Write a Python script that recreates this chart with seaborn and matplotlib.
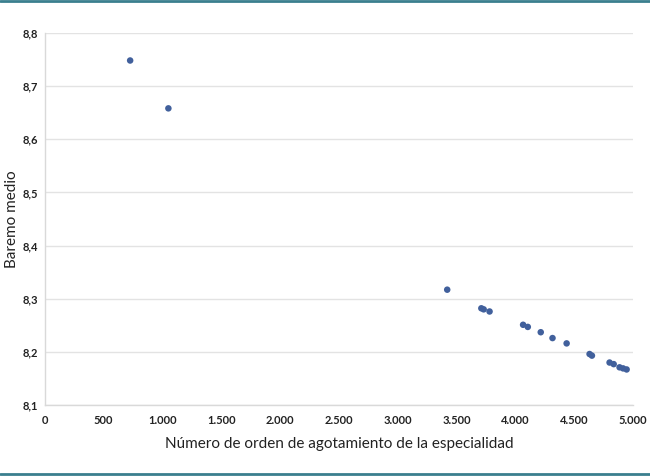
import numpy as np
import pandas as pd
import matplotlib
matplotlib.use("Agg")
import matplotlib.pyplot as plt
from matplotlib.ticker import FuncFormatter, MultipleLocator
from matplotlib.lines import Line2D
import seaborn as sns

# numero de orden de agotamiento vs baremo medio
orden = [725, 1050, 3420, 3710, 3730, 3780, 4065, 4105, 4215, 4315,
         4435, 4630, 4650, 4800, 4835, 4885, 4915, 4945]
baremo = [8.748, 8.658, 8.317, 8.282, 8.280, 8.276, 8.251, 8.247, 8.237, 8.226,
          8.216, 8.196, 8.193, 8.180, 8.177, 8.171, 8.169, 8.167]

df = pd.DataFrame({"orden": orden, "baremo": baremo})

sns.set_style("white")
plt.rcParams['font.family'] = ['Lato', 'DejaVu Sans']

fig = plt.figure(figsize=(6.5, 4.76), dpi=100)
ax = fig.add_axes([0.069, 0.149, 0.905, 0.782])

sns.scatterplot(data=df, x="orden", y="baremo", ax=ax, color="#41609c",
                s=22, edgecolor="none", zorder=3)

ax.set_xlim(0, 5000)
ax.set_ylim(8.1, 8.8)
ax.xaxis.set_major_locator(MultipleLocator(500))
ax.yaxis.set_major_locator(MultipleLocator(0.1))

def fmt_x(v, pos):
    return f"{int(round(v)):,}".replace(",", ".")

def fmt_y(v, pos):
    return f"{v:.1f}".replace(".", ",")

ax.xaxis.set_major_formatter(FuncFormatter(fmt_x))
ax.yaxis.set_major_formatter(FuncFormatter(fmt_y))

ax.grid(axis="y", color="#e3e3e3", lw=1)
ax.tick_params(axis="y", length=0, labelsize=8, colors="#222222", pad=5)
ax.tick_params(axis="x", length=0, labelsize=8, colors="#222222", pad=7)
for lab in ax.get_xticklabels() + ax.get_yticklabels():
    lab.set_fontweight("bold")

for side in ["top", "right"]:
    ax.spines[side].set_visible(False)
for side in ["left", "bottom"]:
    ax.spines[side].set_color("#d9d9d9")
    ax.spines[side].set_linewidth(1)

ax.set_xlabel("Número de orden de agotamiento de la especialidad", fontsize=11,
              color="#222222")
ax.set_ylabel("Baremo medio", fontsize=11, color="#222222")
ax.xaxis.set_label_coords(0.5, -0.085)
ax.yaxis.set_label_coords(-0.044, 0.5)

# teal border lines top and bottom
fig.add_artist(Line2D([0, 1], [0.998, 0.998], transform=fig.transFigure,
                      color="#3a7f8e", lw=2))
fig.add_artist(Line2D([0, 1], [0.005, 0.005], transform=fig.transFigure,
                      color="#3a7f8e", lw=2))

plt.savefig("out.png", dpi=100)
